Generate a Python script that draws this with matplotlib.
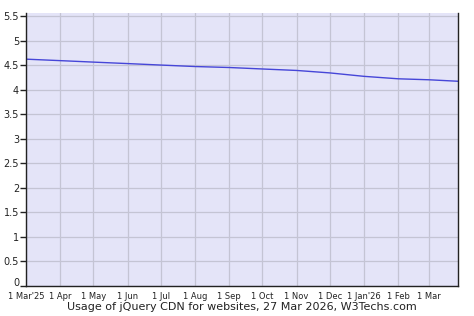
import numpy as np
import pandas as pd
import matplotlib
matplotlib.use("Agg")
import matplotlib.pyplot as plt
import matplotlib.transforms as mtransforms

# valores (uso de jQuery CDN, %)
dates = ["2025-03-01", "2025-04-01", "2025-05-01", "2025-06-01", "2025-07-01",
         "2025-08-01", "2025-09-01", "2025-10-01", "2025-11-01", "2025-12-01",
         "2026-01-01", "2026-02-01", "2026-03-01", "2026-03-27"]
usage = [4.62, 4.59, 4.56, 4.53, 4.50, 4.47, 4.45, 4.42, 4.39, 4.34,
         4.27, 4.22, 4.20, 4.17]

tick_dates = ["2025-03-01", "2025-04-01", "2025-05-01", "2025-06-01", "2025-07-01",
              "2025-08-01", "2025-09-01", "2025-10-01", "2025-11-01", "2025-12-01",
              "2026-01-01", "2026-02-01", "2026-03-01"]
tick_labels = ["1 Mar'25", "1 Apr", "1 May", "1 Jun", "1 Jul", "1 Aug", "1 Sep",
               "1 Oct", "1 Nov", "1 Dec", "1 Jan'26", "1 Feb", "1 Mar"]
y_ticks = [0, 0.5, 1, 1.5, 2, 2.5, 3, 3.5, 4, 4.5, 5, 5.5]

x = pd.to_datetime(dates)

fig = plt.figure(figsize=(4.74, 3.16), dpi=100)
ax = fig.add_axes([0.0549, 0.0949, 0.9113, 0.8655])
ax.set_facecolor("#e4e4f8")

ax.plot(x, usage, color="#4646d8", linewidth=1.0)

ax.set_xlim(pd.Timestamp("2025-03-01"), pd.Timestamp("2026-03-27"))
ax.set_ylim(0, 5.57)

ax.set_xticks(pd.to_datetime(tick_dates))
ax.set_xticklabels(tick_labels, fontsize=6)
ax.set_yticks(y_ticks)
ax.set_yticklabels([f"{v:g}" for v in y_ticks], fontsize=7)

ax.tick_params(axis="x", length=0, pad=4, colors="#222222")
ax.tick_params(axis="y", length=4, width=1, pad=1, colors="#222222", direction="out")

# el "0" sube un poco para no chocar con "1 Mar'25"
lbl0 = ax.get_yticklabels()[0]
lbl0.set_transform(lbl0.get_transform() +
                   mtransforms.ScaledTranslation(0, 3 / 72, fig.dpi_scale_trans))

ax.grid(True, color="#c4c4d4", linewidth=0.9)
ax.set_axisbelow(True)

for side in ["left", "bottom", "right"]:
    ax.spines[side].set_color("#222222")
    ax.spines[side].set_linewidth(1.0)
ax.spines["top"].set_visible(False)

ax.set_xlabel("Usage of jQuery CDN for websites, 27 Mar 2026, W3Techs.com",
              fontsize=8, color="#222222", labelpad=1)

fig.savefig("out.png", dpi=100)
